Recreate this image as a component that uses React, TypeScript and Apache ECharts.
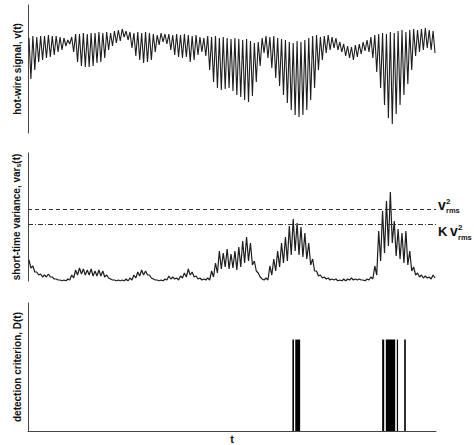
import React, { useEffect, useRef } from "react";
import * as echarts from "echarts";

// ---- data ----
const T_MAX = 1000;
// hot-wire signal v(t): successive local maxima and minima of each oscillation cycle
const signalPeaks = [
  95, 97, 96, 97, 97, 98, 97, 97, 96, 95,
  93, 96, 99, 99, 100, 99, 100, 100, 101, 100,
  101, 100, 102, 103, 104, 102, 101, 100, 101, 100,
  101, 100, 99, 98, 100, 99, 99, 98, 99, 98,
  99, 98, 97, 98, 96, 95, 97, 96, 97, 95,
  96, 95, 94, 95, 94, 93, 94, 92, 90, 91,
  95, 97, 96, 97, 95, 94, 93, 91, 90, 92,
  91, 93, 95, 97, 98, 96, 97, 98, 96, 95,
  91, 89, 87, 86, 88, 89, 91, 93, 96, 98,
  99, 100, 99, 101, 100, 102, 103, 101, 103, 104,
  103, 104, 105, 103, 102,
];
const signalTroughs = [
  54, 63, 71, 73, 75, 76, 78, 81, 83, 87,
  89, 81, 71, 67, 66, 66, 67, 70, 71, 75,
  83, 87, 90, 92, 96, 93, 85, 77, 73, 70,
  71, 73, 81, 88, 91, 89, 83, 78, 76, 75,
  76, 71, 73, 78, 81, 77, 63, 51, 45, 43,
  44, 45, 42, 38, 36, 33, 31, 37, 51, 67,
  80, 75, 65, 55, 47, 38, 30, 23, 18, 16,
  18, 23, 33, 45, 63, 73, 80, 83, 85, 83,
  81, 77, 75, 73, 76, 79, 82, 81, 75, 61,
  45, 28, 15, 9, 19, 28, 38, 49, 63, 77,
  81, 83, 85, 83, 80,
];
// short-time variance var_s(t): upper and lower excursions of each cycle
const varianceHigh = [
  21, 15, 9, 7, 6, 7, 4, 2, 1, 1,
  2, 6, 11, 13, 12, 11, 12, 10, 11, 10,
  6, 2, 1, 1, 1, 2, 3, 6, 9, 11,
  10, 6, 2, 1, 1, 2, 5, 4, 3, 5,
  8, 12, 9, 5, 3, 2, 3, 10, 18, 30,
  28, 32, 27, 30, 34, 40, 44, 38, 20, 8,
  2, 3, 15, 22, 30, 38, 44, 55, 62, 58,
  54, 48, 38, 22, 10, 6, 4, 3, 2, 2,
  1, 2, 2, 3, 2, 2, 1, 2, 4, 15,
  50, 70, 80, 89, 60, 52, 48, 50, 30, 14,
  8, 6, 5, 4, 6,
];
const varianceLow = [
  13, 9, 6, 4, 4, 4, 2, 1, 0, 0,
  1, 3, 6, 7, 6, 6, 5, 5, 5, 4,
  3, 1, 0, 0, 0, 0, 1, 3, 5, 6,
  6, 3, 1, 0, 0, 1, 2, 2, 1, 3,
  4, 6, 4, 2, 1, 1, 1, 4, 8, 12,
  14, 12, 13, 11, 14, 18, 20, 16, 10, 4,
  1, 1, 6, 10, 14, 18, 20, 26, 30, 26,
  24, 22, 16, 10, 5, 3, 2, 1, 1, 0,
  0, 0, 1, 1, 1, 1, 0, 1, 2, 6,
  20, 28, 35, 38, 25, 22, 18, 16, 10, 6,
  4, 3, 3, 2, 3,
];
const RMS_LEVEL = 72; // v_rms^2
const K_RMS_LEVEL = 57; // K v_rms^2
// detection criterion D(t) = 1 on these intervals [start, end]
const detectionStart = [648, 655, 868, 877, 904, 922];
const detectionEnd = [652, 667, 873, 900, 906, 926];

const FONT = '"Liberation Sans", Arial, Helvetica, sans-serif';

export default function App() {
  const ref = useRef<HTMLDivElement>(null);
  useEffect(() => {
    if (!ref.current) return;
    const chart = echarts.init(ref.current, undefined, { renderer: "svg" });
    const n = signalPeaks.length;
    const dt = T_MAX / n;
    const sig: number[][] = [];
    const vr: number[][] = [];
    for (let k = 0; k < n; k++) {
      sig.push([(k + 0.25) * dt, signalPeaks[k]]);
      sig.push([(k + 0.75) * dt, signalTroughs[k]]);
      vr.push([(k + 0.25) * dt, varianceHigh[k]]);
      vr.push([(k + 0.75) * dt, varianceLow[k]]);
    }
    const det = detectionStart.map((s, i) => [s, detectionEnd[i], 1]);
    const axisColor = "#444";
    const nameStyle = { fontFamily: FONT, fontWeight: "bold" as const, fontSize: 10, color: "#111" };
    const yBase = (i: number, name: string, max: number, extra: any = {}) => ({
      type: "value",
      gridIndex: i,
      min: 0,
      max,
      name,
      nameLocation: "middle",
      nameRotate: 90,
      nameGap: 6,
      nameTextStyle: nameStyle,
      axisLine: { show: true, onZero: false, lineStyle: { color: axisColor, width: 1 } },
      axisTick: { show: false },
      axisLabel: { show: false },
      splitLine: { show: false },
      ...extra,
    });
    const xBase = (i: number, extra: any = {}) => ({
      type: "value",
      gridIndex: i,
      min: 0,
      max: T_MAX,
      axisLine: { show: false, onZero: false },
      axisTick: { show: false },
      axisLabel: { show: false },
      splitLine: { show: false },
      ...extra,
    });
    chart.setOption({
      animation: false,
      backgroundColor: "#fff",
      grid: [
        { left: 28, top: 5, width: 408, height: 128 },
        { left: 28, top: 153, width: 408, height: 128 },
        { left: 28, top: 303, width: 408, height: 129 },
      ],
      xAxis: [
        xBase(0),
        xBase(1),
        xBase(2, {
          axisLine: { show: true, onZero: false, lineStyle: { color: axisColor, width: 1 } },
          name: "t",
          nameLocation: "middle",
          nameGap: 2,
          nameTextStyle: { ...nameStyle, fontSize: 11, verticalAlign: "top" },
        }),
      ],
      yAxis: [
        yBase(0, "hot-wire signal, v(t)", 128),
        yBase(1, "short-time variance, var{sub|s}(t)", 128, {
          nameTextStyle: {
            ...nameStyle,
            rich: { sub: { fontFamily: FONT, fontWeight: "bold", fontSize: 7, color: "#111", verticalAlign: "bottom", padding: [4, 0, 0, 0] } },
          },
        }),
        yBase(2, "detection criterion, D(t)", 1.4),
      ],
      series: [
        {
          type: "line",
          xAxisIndex: 0,
          yAxisIndex: 0,
          data: sig,
          showSymbol: false,
          lineStyle: { color: "#1e1e1e", width: 1.1 },
          silent: true,
        },
        {
          type: "line",
          xAxisIndex: 1,
          yAxisIndex: 1,
          data: vr,
          showSymbol: false,
          lineStyle: { color: "#1e1e1e", width: 1.2 },
          silent: true,
          markLine: {
            silent: true,
            symbol: "none",
            label: { show: false },
            data: [
              { yAxis: RMS_LEVEL, lineStyle: { color: "#333", width: 1, type: [4, 3] } },
              { yAxis: K_RMS_LEVEL, lineStyle: { color: "#333", width: 1, type: [5, 2, 1, 2] } },
            ],
          },
        },
        {
          type: "custom",
          xAxisIndex: 2,
          yAxisIndex: 2,
          data: det,
          encode: { x: [0, 1], y: 2 },
          silent: true,
          renderItem: (params: any, api: any) => {
            const a = api.coord([api.value(0), api.value(2)]);
            const b = api.coord([api.value(1), 0]);
            return {
              type: "rect",
              shape: { x: a[0], y: a[1], width: Math.max(b[0] - a[0], 1.2), height: b[1] - a[1] },
              style: { fill: "#000" },
            };
          },
        },
      ],
    });
    const yd = chart.convertToPixel({ yAxisIndex: 1 }, RMS_LEVEL) as number;
    const yc = chart.convertToPixel({ yAxisIndex: 1 }, K_RMS_LEVEL) as number;
    const xe = (chart.convertToPixel({ xAxisIndex: 1 }, T_MAX) as number) + 2;
    const txt = (x: number, y: number, text: string, size: number) => ({
      type: "text",
      x,
      y,
      silent: true,
      style: { text, fontFamily: FONT, fontWeight: "bold", fontSize: size, fill: "#111", verticalAlign: "middle", align: "left" },
    });
    chart.setOption({
      graphic: [
        txt(xe, yd - 4, "v", 14),
        txt(xe + 8, yd - 8, "2", 8),
        txt(xe + 8, yd + 1, "rms", 7.5),
        txt(xe, yc + 7, "K", 13),
        txt(xe + 12, yc + 7, "v", 14),
        txt(xe + 20, yc + 3, "2", 8),
        txt(xe + 20, yc + 13, "rms", 7.5),
      ],
    });
    return () => chart.dispose();
  }, []);
  return (
    <div
      ref={ref}
      style={{ position: "fixed", left: 0, top: 0, width: 474, height: 445, background: "#fff" }}
    />
  );
}
